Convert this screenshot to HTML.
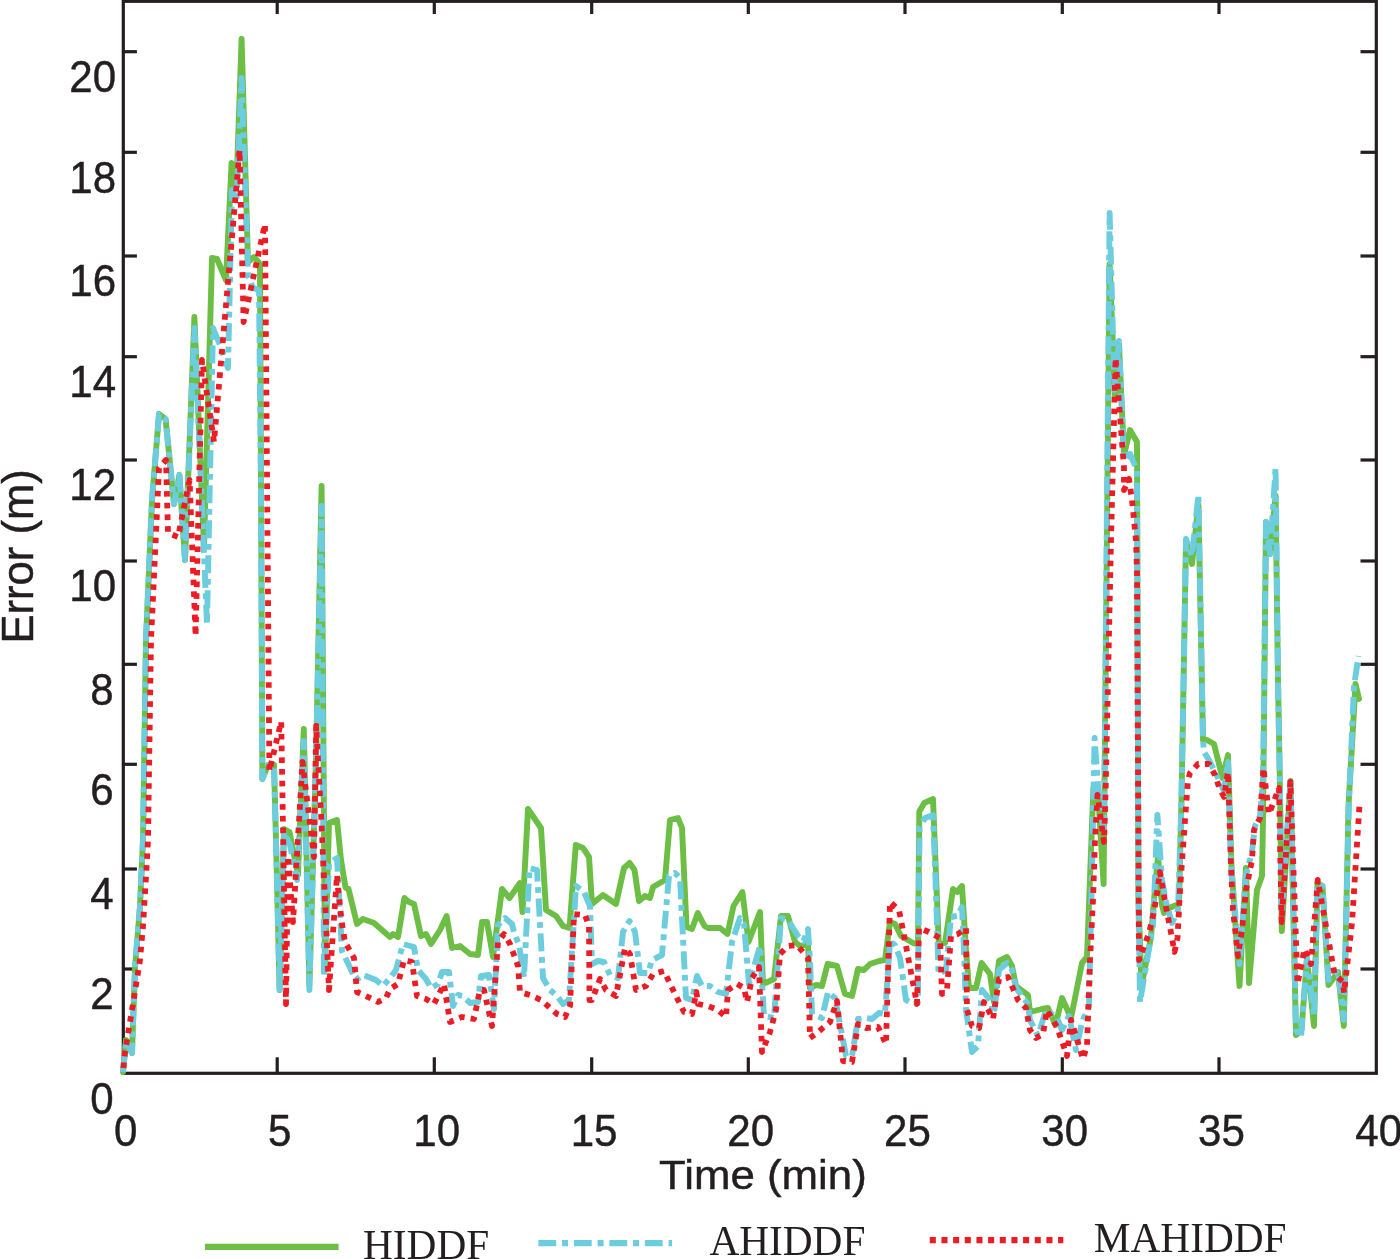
<!DOCTYPE html>
<html><head><meta charset="utf-8"><title>Error vs Time</title>
<style>html,body{margin:0;padding:0;background:#fff}svg{display:block}text{fill:#231f20}</style></head><body>
<svg width="1400" height="1259" viewBox="0 0 1400 1259">
<rect width="1400" height="1259" fill="#fff"/>
<g stroke="#231f20" stroke-width="3.2" fill="none">
<rect x="123.3" y="1.3" width="1253.0" height="1072.0"/>
<line x1="123.3" y1="51.7" x2="136.9" y2="51.7"/><line x1="1376.3" y1="51.7" x2="1360.5" y2="51.7"/>
<line x1="123.3" y1="152.3" x2="136.9" y2="152.3"/><line x1="1376.3" y1="152.3" x2="1360.5" y2="152.3"/>
<line x1="123.3" y1="256" x2="136.9" y2="256"/><line x1="1376.3" y1="256" x2="1360.5" y2="256"/>
<line x1="123.3" y1="356.7" x2="136.9" y2="356.7"/><line x1="1376.3" y1="356.7" x2="1360.5" y2="356.7"/>
<line x1="123.3" y1="460" x2="136.9" y2="460"/><line x1="1376.3" y1="460" x2="1360.5" y2="460"/>
<line x1="123.3" y1="561" x2="136.9" y2="561"/><line x1="1376.3" y1="561" x2="1360.5" y2="561"/>
<line x1="123.3" y1="664.3" x2="136.9" y2="664.3"/><line x1="1376.3" y1="664.3" x2="1360.5" y2="664.3"/>
<line x1="123.3" y1="764.3" x2="136.9" y2="764.3"/><line x1="1376.3" y1="764.3" x2="1360.5" y2="764.3"/>
<line x1="123.3" y1="869" x2="136.9" y2="869"/><line x1="1376.3" y1="869" x2="1360.5" y2="869"/>
<line x1="123.3" y1="969" x2="136.9" y2="969"/><line x1="1376.3" y1="969" x2="1360.5" y2="969"/>
<line x1="277.2" y1="1073.3" x2="277.2" y2="1057.3"/><line x1="277.2" y1="1.3" x2="277.2" y2="14"/>
<line x1="434.3" y1="1073.3" x2="434.3" y2="1057.3"/><line x1="434.3" y1="1.3" x2="434.3" y2="14"/>
<line x1="591.7" y1="1073.3" x2="591.7" y2="1057.3"/><line x1="591.7" y1="1.3" x2="591.7" y2="14"/>
<line x1="748.3" y1="1073.3" x2="748.3" y2="1057.3"/><line x1="748.3" y1="1.3" x2="748.3" y2="14"/>
<line x1="905" y1="1073.3" x2="905" y2="1057.3"/><line x1="905" y1="1.3" x2="905" y2="14"/>
<line x1="1062.3" y1="1073.3" x2="1062.3" y2="1057.3"/><line x1="1062.3" y1="1.3" x2="1062.3" y2="14"/>
<line x1="1219" y1="1073.3" x2="1219" y2="1057.3"/><line x1="1219" y1="1.3" x2="1219" y2="14"/>
</g>
<polyline fill="none" stroke="#6cbe45" stroke-width="5.9" stroke-linejoin="round" stroke-linecap="round" points="123,1072 126,1040 132,1053 135,968 140,906 143,840 146,640 152,500 159,414 165.6,419 174,504 179.4,475 185,560 194.4,317 204,548 212,258 217,259 226,280 231.6,163 236.5,185 241.6,39 248,262 254,257 260,264 262.4,779 268,765 274,765 276,840 279.6,990 284,829 289.5,832 298,875 303.8,729 309.4,985 316,760 321.6,486 325,970 329,823 337,820 341,860 345.5,887.5 348.5,889 357,924 363,919 374,923 390,937 393,934 398,937 404.4,898 409,902 414,904 421,936 426,934 431,944 440,930 446.6,916 452,948 460,946 470,954 478,955 482,922 487,922 493,957 502,889 509.5,898 520,883 522.5,912 528,809 541,828 546,910 556,916 563,926 569.5,928 575.8,845 583,848 589,857 592,904 603,895 616,904 624,868 629.6,863 634.5,870 639,901 645,896 650,898 653,887 665,880 670,820 678,818 682,828 686.5,927 692,929 697.8,913 704.5,926 708,928 720,928 727.5,934 733.5,906 742.4,892 748.5,942 760,912 763,984 774,979 781,916 788,916 795,942 800,946 808,944 810,988 816,985 822,986 827.6,964 837,966 845,994 852,996 858,969 864,970 870,964 879,961 885,960 890,922 895,924 901,936 913,943 918,944.5 919.3,811.5 924.3,803 933,799 938.8,944.5 945,943 953,889 957,892 962,886 966,950 969,988 976,988 981.6,963 990,974 994,1002 999,961 1007,957 1012,966 1016,986 1028,995 1030,1012 1042,1009 1048,1008 1055.5,1025 1062,998 1071,1018 1082,963 1087,957 1093.4,788 1098.5,800 1103.6,884 1109.6,264 1115,396 1119,345 1124,455 1130,430 1137,442 1138.5,900 1141.5,986 1151,937 1154,900 1158,856 1162,905 1164,913 1169,908 1179,904 1181.5,800 1186,541 1192,564 1198.4,505 1203,740 1207,740 1214,744 1222.5,778 1228,755 1231.5,866 1239.5,986 1246,868 1249,983 1257,890 1262,876 1263,820 1266,522 1270,554 1275.6,496 1278,680 1280,790 1281.8,931 1290.5,781 1296,1035 1301.5,1030 1307,958 1314,1026 1317.5,883 1322.5,886 1328.5,985 1338,972 1343.8,1026 1346,926 1348.5,806 1355.5,684 1359,699"/>
<polyline fill="none" stroke="#6bcdde" stroke-width="5.9" stroke-linejoin="round" stroke-dasharray="18 5.6 5.8 5.6" points="123,1072 126,1042 132,1053 135,968 140,906 143,840 146,640 152,500 159,414 165.6,419 174,504 179.4,475 185,560 194.4,328 207,624 213,328 220,345 228,368 232,190 236.5,200 241.6,78 248,276 253,288 259,290 261,500 262.4,779 268,765 274,765 276,840 279.6,990 284,832 290,845 297,880 303.8,741 309.4,990 316,760 321.6,506 324,976 329,864 337,858 342,951 356,980 363,975 376,980 383,986 390,978 396,970 403,944 414,947 418,970 426,979 431,988 438,984 442,972 449,972 453,1006 458,995 463,996 470,1003 478,1002 481,976 489,975 494,1009 498,925 505,918 512,924 514,932 519,945 524,977 529.5,868 537,870 543,978 550,990 557,996 563,1004 569,1000 576,886 584,892 590,906 592,964 598,961 604,962 610,975 618,978 623,932 629.5,921 635,932 640,973 648,973 652,960 662,955 669,876 675,873 680,878 686,998 692,1000 697,976 702,986 710,986 718,992 726,994 732,942 740,918 744,924 749,984 760,946 764,1016 774,1018 781,918 788,920 798,936 803.5,941 808,929 810,960 812,1014 822,1018 828,992 835,998 846,1056 852,1056 858,1019 866,1018 872,1019 879,1013 885,1014 890,942 895,945 900,958 906,1000 913,1004 917.8,1003 919.6,827 925,818 933,815 935.5,880 938.6,974 946,970 951,917 957,916 962,907 964,950 966,1010 972,1052 978,1046 982,990 990,1000 994,1014 999,970 1007,963 1012,970 1016,988 1028,1004 1030,1020 1038,1036 1046,1010 1057,1018 1062,1030 1069,1016 1076,1050 1082,1022 1089,1006 1092,870 1094.6,738 1099,800 1104,830 1109.6,213 1114.5,390 1119,341 1124,460 1130,454 1137,470 1138.5,900 1140,1002 1153,925 1154,903 1157.4,815 1162,880 1166,902 1172,923 1178,910 1181.5,800 1186,539 1192,556 1198.4,495 1203,740 1204,752 1209,760 1220,782 1223.5,790 1228,762 1231,866 1239.5,964 1246,875 1252,852 1255,826 1260,816 1263,780 1266,522 1270,554 1275.6,468 1278,680 1280,790 1281.5,915 1290.5,779 1296,1030 1301,1037 1307,958 1314,1015 1317.5,884 1322.5,886 1328.5,980 1338,970 1343.8,1020 1349,800 1354,686 1358.5,656"/>
<polyline fill="none" stroke="#ed1c24" stroke-width="5.8" stroke-linejoin="round" stroke-dasharray="5.6 6.1" stroke-dashoffset="-4" points="123,1072 125,1052 132,1010 140,960 143,926 147,860 148,840 151,640 157,512 159,468 166,460 168,533 178,537 189.6,480 195.6,636 202,360 214,442 239.6,150 243.6,322 265,224 269.4,771 281.2,721.5 286,1004 288,856 293,922 302.5,762 314,857 316.2,726 321.5,823 329,990 337,875 338,888 342,924 345,942 354,958 357,992 368,997 378,1002 386,998 390,989 398,984 404,960 412,962 417,996 426,999 434,1004 444,984 450,1022 462,1017 474,1019 480,990 484,990 492,1026 498,942 504,934 510,944 518,966 520,992 530,995 541,1000 549,1007 557,1014 565,1017 570,1006 574,914 585,915 589,926 589.5,1000 592,1000 600,979 606,990 616,996 625,948 630,954 636,990 646,986 653,974 664,971 674,992 684,1012 692,1014 696.4,992 698,1004 708,1006 718,1010 726,1017 728,990 737,984 744,988 747,1002 752,978 759,967 762,1052 770,1032 776,1010 780,954 788,946 797,945 808,958 810,1038 818,1032 830,1022 837,1001 843,1061 852,1062 858,1024 866,1028 878,1027 886,1044 890,902 899,910 906,946 917,1004 919,928 929,932 940,938 942,994 947,990 951,936 958,934 966,928 967,1010 972,1026 979,1028 984,1002 993,1019 999,979 1008,977 1018,1000 1026,1008 1030,1030 1036,1038 1043,1034 1047,1010 1057,1027 1067,1056 1071,1020 1083,1059 1087,1046 1090,960 1093,900 1095,840 1097.5,795 1104,842 1105.6,792 1111,540 1115.6,358 1124,468 1124,490 1129,479 1132,500 1136,540 1137,572 1139,960 1145,944 1149,933 1152,921 1156,900 1160,872 1166,907 1170.5,930 1174.5,952 1177.5,938 1180,890 1185,820 1188,780 1190,773 1198,764 1209,764 1215,775 1219,787 1224,797 1228,772 1231,866 1233,910 1238,956 1242,930 1246,890 1252,860 1254,830 1260,818 1263.4,768 1269,814 1279,788 1281.6,922 1290.4,782 1297.5,984 1304.5,949 1311,964 1317.8,880 1334.5,974 1343,982 1344,993 1352,923 1359.5,805"/>
<g font-family="'Liberation Sans',Arial,Helvetica,sans-serif" font-size="44.5" stroke="#231f20" stroke-width="0.45">
<text transform="translate(116.1,92.1) scale(0.946,1)" text-anchor="end">20</text>
<text transform="translate(116.1,192.7) scale(0.946,1)" text-anchor="end">18</text>
<text transform="translate(116.1,296.4) scale(0.946,1)" text-anchor="end">16</text>
<text transform="translate(116.1,397.1) scale(0.946,1)" text-anchor="end">14</text>
<text transform="translate(116.1,500.4) scale(0.946,1)" text-anchor="end">12</text>
<text transform="translate(116.1,601.4) scale(0.946,1)" text-anchor="end">10</text>
<text transform="translate(113.7,704.7) scale(0.946,1)" text-anchor="end">8</text>
<text transform="translate(113.7,804.7) scale(0.946,1)" text-anchor="end">6</text>
<text transform="translate(113.7,909.4) scale(0.946,1)" text-anchor="end">4</text>
<text transform="translate(113.7,1009.4) scale(0.946,1)" text-anchor="end">2</text>
<text transform="translate(113.7,1113.7) scale(0.946,1)" text-anchor="end">0</text>
<text transform="translate(125.7,1145.6) scale(0.946,1)" text-anchor="middle">0</text>
<text transform="translate(279.6,1145.6) scale(0.946,1)" text-anchor="middle">5</text>
<text transform="translate(436.7,1145.6) scale(0.946,1)" text-anchor="middle">10</text>
<text transform="translate(594.1,1145.6) scale(0.946,1)" text-anchor="middle">15</text>
<text transform="translate(750.7,1145.6) scale(0.946,1)" text-anchor="middle">20</text>
<text transform="translate(907.4,1145.6) scale(0.946,1)" text-anchor="middle">25</text>
<text transform="translate(1064.7,1145.6) scale(0.946,1)" text-anchor="middle">30</text>
<text transform="translate(1221.4,1145.6) scale(0.946,1)" text-anchor="middle">35</text>
<text transform="translate(1378.7,1145.6) scale(0.946,1)" text-anchor="middle">40</text>
<text transform="translate(762.9,1189.1) scale(1.062,1)" text-anchor="middle" font-size="41.3">Time (min)</text>
<text transform="translate(33.2,556.4) rotate(-90)" text-anchor="middle" font-size="43.6">Error (m)</text>
</g>
<line x1="205" y1="1246.85" x2="338.6" y2="1246.85" stroke="#6cbe45" stroke-width="6.3"/>
<line x1="538.4" y1="1243.1" x2="672" y2="1243.1" stroke="#6bcdde" stroke-width="6.3" stroke-dasharray="17.8 5.9 6 5.8"/>
<line x1="929.8" y1="1240.1" x2="1063.3" y2="1240.1" stroke="#ed1c24" stroke-width="6.3" stroke-dasharray="6.05 5.61"/>
<g font-family="'Liberation Serif','Times New Roman',Times,serif" font-size="41.3">
<text x="363" y="1258.6">HIDDF</text>
<text x="709.4" y="1255.4">AHIDDF</text>
<text x="1093.8" y="1252.1">MAHIDDF</text>
</g>
</svg></body></html>
